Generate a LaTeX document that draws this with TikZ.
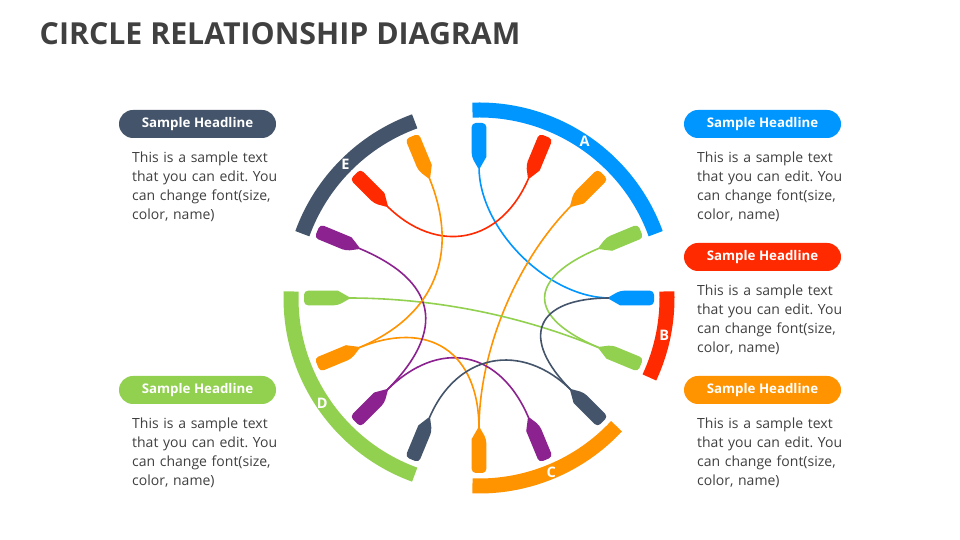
\documentclass[tikz,border=0pt]{standalone}
\usepackage{fontspec}
\setmainfont{Open Sans}
\usetikzlibrary{calc}
\frenchspacing
\definecolor{cDark}{HTML}{44546A}
\definecolor{cBlue}{HTML}{0096FF}
\definecolor{cRed}{HTML}{FF2A00}
\definecolor{cOrange}{HTML}{FF9300}
\definecolor{cGreen}{HTML}{92D050}
\definecolor{cPurple}{HTML}{8C2290}
\definecolor{cText}{HTML}{404040}
\newcommand\pinshape[2]{%
  \begin{scope}[shift={(C)}, rotate=#1*22.5]
    \fill[#2] (130,-1) -- (141,-7.3) [rounded corners=4pt] -- (175,-7.3) -- (175,7.3) -- (141,7.3) [sharp corners] -- (130,1) -- cycle;
  \end{scope}}
\newcommand\conn[4]{\draw[link, #1] (p#2) .. controls ($(C)+({#2*22.5}:#4)$) and ($(C)+({#3*22.5}:#4)$) .. (p#3);}
\begin{document}
\begin{tikzpicture}[x=1pt,y=1pt,
  arcband/.style={line width=15pt},
  link/.style={line width=1.6pt},
  headline/.style={rounded corners=14pt, minimum width=157pt, minimum height=28pt, inner sep=0pt, text=white, font=\bfseries\fontsize{13.3}{16}\selectfont},
  body/.style={anchor=base west, inner sep=0pt, text width=170pt, align=left, text=cText, font=\fontsize{14}{19}\selectfont},
  arclabel/.style={text=white, font=\bfseries\fontsize{14.5}{16}\selectfont, inner sep=0pt}]
\useasboundingbox (0,0) rectangle (960,540);
\fill[white] (0,0) rectangle (960,540);
\coordinate (C) at (479,242);
\foreach \k in {0,...,15} {\coordinate (p\k) at ($(C)+({\k*22.5}:131)$);}

% title
\node[anchor=base west, inner sep=0pt, font=\bfseries\fontsize{30.3}{34}\selectfont, text=cText] (title) at (39.5,495) {CIRCLE RELATIONSHIP DIAGRAM};

% outer arcs
\draw[arcband, cBlue] ($(C)+(92:188)$) arc[start angle=92, end angle=20, radius=188];
\draw[arcband, cRed] ($(C)+(2:188)$) arc[start angle=2, end angle=-25, radius=188];
\draw[arcband, cOrange] ($(C)+(-43:188)$) arc[start angle=-43, end angle=-92, radius=188];
\draw[arcband, cGreen] ($(C)+(178:188)$) arc[start angle=178, end angle=250, radius=188];
\draw[arcband, cDark] ($(C)+(110:188)$) arc[start angle=110, end angle=160, radius=188];
\node[arclabel] (lA) at ($(C)+(56:189)$) {A};
\node[arclabel] (lB) at ($(C)+(-11.5:189)$) {B};
\node[arclabel] (lC) at ($(C)+(-67.5:189)$) {C};
\node[arclabel] (lD) at ($(C)+(214:189)$) {D};
\node[arclabel] (lE) at ($(C)+(135:189)$) {E};

% connectors
\conn{cBlue}{4}{0}{69}
\conn{cRed}{3}{6}{59}
\conn{cOrange}{2}{12}{53}
\conn{cGreen}{1}{15}{51}
\conn{cGreen}{8}{15}{45}
\conn{cDark}{14}{0}{56}
\conn{cPurple}{13}{10}{56}
\conn{cOrange}{12}{9}{54}
\conn{cDark}{11}{14}{60}
\conn{cPurple}{10}{7}{45}
\conn{cOrange}{9}{5}{48}

% pins
\pinshape{0}{cBlue}
\pinshape{1}{cGreen}
\pinshape{2}{cOrange}
\pinshape{3}{cRed}
\pinshape{4}{cBlue}
\pinshape{5}{cOrange}
\pinshape{6}{cRed}
\pinshape{7}{cPurple}
\pinshape{8}{cGreen}
\pinshape{9}{cOrange}
\pinshape{10}{cPurple}
\pinshape{11}{cDark}
\pinshape{12}{cOrange}
\pinshape{13}{cPurple}
\pinshape{14}{cDark}
\pinshape{15}{cGreen}

% text blocks
\node[headline, fill=cDark] (h1) at (197.5,416) {Sample Headline};
\node[body] (b1) at (132,377) {This is a sample text\\that you can edit. You\\can change font(size,\\color, name)};
\node[headline, fill=cGreen] (h2) at (197.5,150) {Sample Headline};
\node[body] (b2) at (132,111) {This is a sample text\\that you can edit. You\\can change font(size,\\color, name)};
\node[headline, fill=cBlue] (h3) at (762.5,416) {Sample Headline};
\node[body] (b3) at (697,377) {This is a sample text\\that you can edit. You\\can change font(size,\\color, name)};
\node[headline, fill=cRed] (h4) at (762.5,283) {Sample Headline};
\node[body] (b4) at (697,244) {This is a sample text\\that you can edit. You\\can change font(size,\\color, name)};
\node[headline, fill=cOrange] (h5) at (762.5,150) {Sample Headline};
\node[body] (b5) at (697,111) {This is a sample text\\that you can edit. You\\can change font(size,\\color, name)};
\end{tikzpicture}
\end{document}
